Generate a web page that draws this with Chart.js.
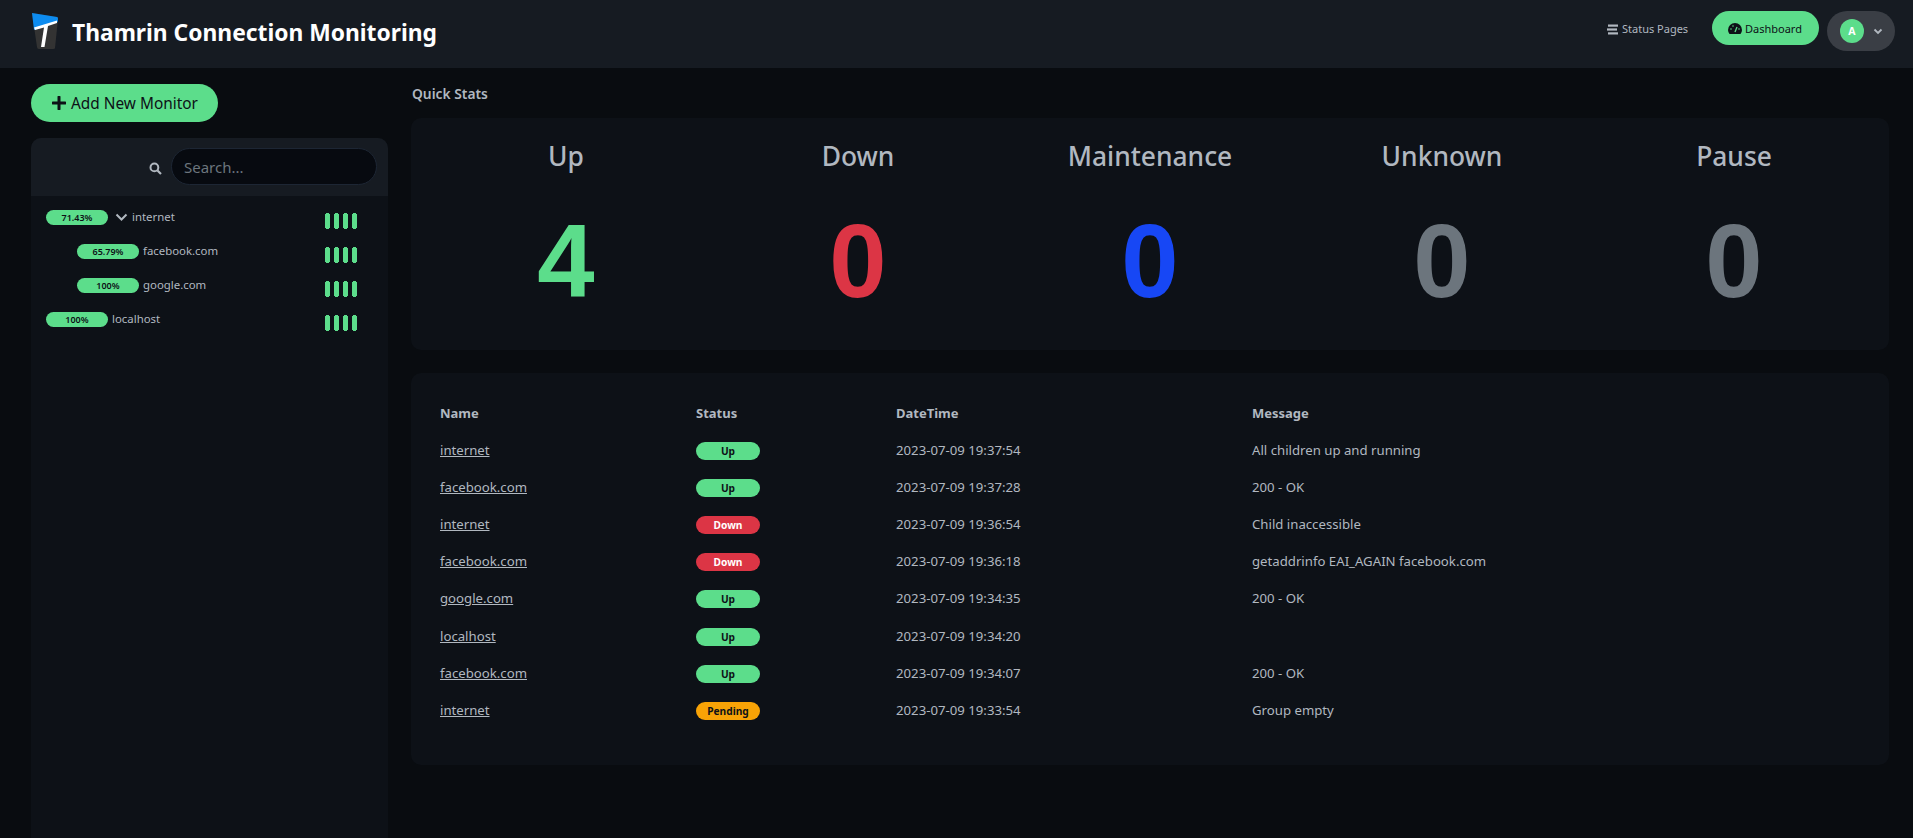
<!DOCTYPE html>
<html><head><meta charset="utf-8"><title>Thamrin Connection Monitoring</title>
<script src="https://cdn.jsdelivr.net/npm/chart.js@4"></script>
<style>
*{box-sizing:border-box}
html,body{margin:0;width:1913px;height:838px;overflow:hidden;background:#090c10;font-family:"Noto Sans",sans-serif;color:#b1b8c0}
.a{position:absolute;white-space:nowrap}
a{color:inherit;text-decoration:underline}
.hdr{left:0;top:0;width:1913px;height:68px;background:#161b22}
.title{left:72px;top:16px;font-size:22.8px;font-weight:700;color:#fff;line-height:34px}
.btn{background:#5cdd8b;color:#0d1117;border-radius:50px}
.card{background:#0d1117;border-radius:10px}
.pill{background:#5cdd8b;color:#0d1117;border-radius:8px;width:62px;height:15px;font-size:9px;font-weight:600;line-height:15px;text-align:center}
.mon{font-size:11.4px;line-height:16px}
.lab{width:292px;text-align:center;top:136px;font-size:26.4px;font-weight:500;line-height:40px}
.num{width:292px;text-align:center;top:204px;font:bold 103px/115px "Liberation Sans",sans-serif}
.th{font-size:13px;font-weight:700;line-height:18px}
.td{font-size:13.2px;line-height:18px}
.badge{left:696px;width:64px;height:18px;border-radius:9px;font-size:10.2px;font-weight:700;line-height:18px;text-align:center}
canvas{position:absolute;display:block}
</style></head><body>
<div class="a hdr"></div>
<svg class="a" style="left:31px;top:12px" width="28" height="38" viewBox="0 0 28 38">
<path d="M1 1 L26 5 Q27 5 27 7 L24 36 Q24 37 22 37 L8 37 Q6 37 6 35 Z" fill="#333"/>
<path d="M1 1 L26 5 Q27 5 27 7 L26.7 10 L3 18 Z" fill="#0d8cf0"/>
<path d="M3 15.5 L26 8.5 L26 11 L17 14 L13.5 35 L10 35 L13 15.5 L4 18 Z" fill="#fff"/>
</svg>
<div class="a title">Thamrin Connection Monitoring</div>
<svg class="a" style="left:1607px;top:24px" width="11" height="11" viewBox="0 0 11 11" fill="#b1b8c0"><rect x="1" y="0.5" width="10" height="2.2"/><rect x="0" y="4.4" width="10" height="2.2"/><rect x="1" y="8.3" width="10" height="2.2"/></svg>
<div class="a" style="left:1622px;top:20px;font-size:11px;line-height:17px">Status Pages</div>
<div class="a btn" style="left:1712px;top:11px;width:107px;height:34px"></div>
<svg class="a" style="left:1728px;top:23px" width="14" height="11" viewBox="0 0 14 11"><path d="M0 7 A7 7 0 0 1 14 7 Q14 9 12.5 11 L1.5 11 Q0 9 0 7 Z" fill="#0d1117"/><path d="M7 9 L9 4" stroke="#5cdd8b" stroke-width="1.3"/><circle cx="3" cy="6" r="0.8" fill="#5cdd8b"/><circle cx="5" cy="3" r="0.8" fill="#5cdd8b"/><circle cx="11" cy="6" r="0.8" fill="#5cdd8b"/></svg>
<div class="a" style="left:1745px;top:20px;font-size:11px;line-height:17px;color:#0d1117">Dashboard</div>
<div class="a" style="left:1827px;top:11px;width:68px;height:40px;border-radius:20px;background:#3a3e45"></div>
<div class="a" style="left:1840px;top:19px;width:24px;height:24px;border-radius:12px;background:#5cdd8b;color:#fff;font-size:10.5px;font-weight:700;line-height:24px;text-align:center">A</div>
<svg class="a" style="left:1873px;top:28px" width="10" height="7" viewBox="0 0 10 7"><path d="M1.5 1.5 L5 5 L8.5 1.5" stroke="#b1b8c0" stroke-width="1.8" fill="none"/></svg>

<div class="a btn" style="left:31px;top:84px;width:187px;height:38px"></div>
<svg class="a" style="left:52px;top:96px" width="14" height="14" viewBox="0 0 14 14"><path d="M7 1 V13 M1 7 H13" stroke="#0d1117" stroke-width="3" stroke-linecap="round"/></svg>
<div class="a" style="left:71px;top:93px;font-size:15.4px;line-height:22px;color:#0d1117">Add New Monitor</div>
<div class="a card" style="left:31px;top:138px;width:357px;height:720px"></div>
<div class="a" style="left:31px;top:138px;width:357px;height:58px;background:#161b22;border-radius:10px 10px 0 0"></div>
<svg class="a" style="left:149px;top:162px" width="13" height="13" viewBox="0 0 13 13"><circle cx="5.4" cy="5.4" r="3.9" stroke="#b1b8c0" stroke-width="2" fill="none"/><path d="M8.5 8.5 L12 12" stroke="#b1b8c0" stroke-width="2.2"/></svg>
<div class="a" style="left:171px;top:148px;width:206px;height:37px;background:#070a10;border:1px solid #1d2634;border-radius:19px;padding-left:12px;font-size:15px;line-height:37px;color:#6c757d">Search...</div>
<svg class="a" style="left:115px;top:213px" width="13" height="9" viewBox="0 0 13 9"><path d="M1.5 1.5 L6.5 6.5 L11.5 1.5" stroke="#b1b8c0" stroke-width="2" fill="none"/></svg>
<div class="a" style="left:412px;top:84px;font-size:13.8px;font-weight:600;line-height:19px">Quick Stats</div>
<div class="a card" style="left:411px;top:118px;width:1478px;height:232px"></div>
<div class="a card" style="left:411px;top:373px;width:1478px;height:392px"></div>
<div class="a th" style="left:440px;top:404px">Name</div>
<div class="a th" style="left:696px;top:404px">Status</div>
<div class="a th" style="left:896px;top:404px">DateTime</div>
<div class="a th" style="left:1252px;top:404px">Message</div>
<div id="root"></div>
<script>
const statLabels = ["Up","Down","Maintenance","Unknown","Pause"];
const statValues = [4,0,0,0,0];
const statColors = ["#5cdd8b","#dc3545","#1747f5","#6c757d","#6c757d"];
const monitorNames = ["internet","facebook.com","google.com","localhost"];
const monitorUptime = ["71.43%","65.79%","100%","100%"];
const monitorDepth = [0,1,1,0];
const beatLabels = ["1","2","3","4"];
const beatsInternet = [1,1,1,1];
const beatsFacebook = [1,1,1,1];
const beatsGoogle = [1,1,1,1];
const beatsLocalhost = [1,1,1,1];
const eventNames = ["internet","facebook.com","internet","facebook.com","google.com","localhost","facebook.com","internet"];
const eventStatus = ["Up","Up","Down","Down","Up","Up","Up","Pending"];
const eventTimes = ["2023-07-09 19:37:54","2023-07-09 19:37:28","2023-07-09 19:36:54","2023-07-09 19:36:18","2023-07-09 19:34:35","2023-07-09 19:34:20","2023-07-09 19:34:07","2023-07-09 19:33:54"];
const eventMessages = ["All children up and running","200 - OK","Child inaccessible","getaddrinfo EAI_AGAIN facebook.com","200 - OK","","200 - OK","Group empty"];

const root = document.getElementById("root");
function add(cls, css, text){const d=document.createElement("div");d.className="a "+cls;d.style.cssText=css;d.textContent=text;root.appendChild(d);return d;}
statLabels.forEach((l,i)=>{
  const x=420+292*i;
  add("lab",`left:${x}px`,l);
  add("num",`left:${x}px;color:${statColors[i]}`,String(statValues[i]));
});
const allBeats=[beatsInternet,beatsFacebook,beatsGoogle,beatsLocalhost];
monitorNames.forEach((n,i)=>{
  const y=210+34*i, d=monitorDepth[i];
  add("pill",`left:${46+31*d}px;top:${y}px`,monitorUptime[i]);
  const tx = i===0?132:(d?143:112);
  add("mon",`left:${tx}px;top:${y-1}px`,n);
  const c=document.createElement("canvas");
  c.style.cssText=`left:323px;top:${y+3}px;width:36px;height:16px`;
  c.width=36;c.height=16;
  root.appendChild(c);
  new Chart(c,{type:"bar",data:{labels:beatLabels,datasets:[{data:allBeats[i],backgroundColor:"#5cdd8b",barThickness:5.4,borderRadius:2.7,borderSkipped:false,inflateAmount:0}]},
    options:{responsive:false,devicePixelRatio:3,animation:false,layout:{padding:0},plugins:{legend:{display:false},tooltip:{enabled:false}},
      scales:{x:{display:false},y:{display:false,min:0,max:1}}}});
});
const badge={Up:["#5cdd8b","#0d1117"],Down:["#dc3545","#fff"],Pending:["#f8a306","#0d1117"]};
eventNames.forEach((n,i)=>{
  const y=Math.round(442+37.1*i);
  const t=y-1;
  const nm=add("td",`left:440px;top:${t}px`,"");
  const a=document.createElement("a");a.textContent=n;nm.appendChild(a);
  add("badge",`top:${y}px;background:${badge[eventStatus[i]][0]};color:${badge[eventStatus[i]][1]}`,eventStatus[i]);
  add("td",`left:896px;top:${t}px`,eventTimes[i]);
  if(eventMessages[i]) add("td",`left:1252px;top:${t}px`,eventMessages[i]);
});
</script>
</body></html>
